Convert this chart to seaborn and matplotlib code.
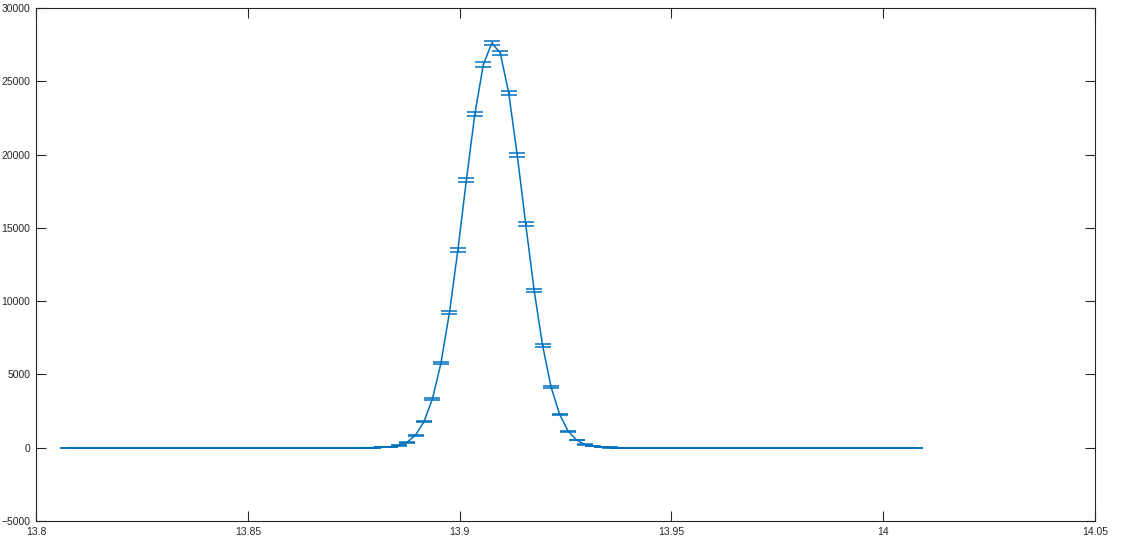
"""
Peak histogram with Poisson error bars (Octave-style errorbar plot).
"""
import numpy as np
import pandas as pd
import seaborn as sns
import matplotlib
matplotlib.use("Agg")
import matplotlib.pyplot as plt
from matplotlib.ticker import FuncFormatter

sns.set_theme(style="ticks")
plt.rcParams["font.family"] = ["Liberation Sans", "DejaVu Sans"]

# bin centres: 101 bins, 0.002 wide, peak bin at 13.9076
x_first = 13.8076
bin_width = 0.002
n_bins = 101

counts = [
    0, 0, 0, 0, 0, 0, 0, 0, 0, 0,
    0, 0, 0, 0, 0, 0, 0, 0, 0, 0,
    0, 0, 0, 0, 0, 0, 0, 0, 0, 0,
    0, 0, 0, 0, 0, 0, 10, 25, 70, 160,
    370, 860, 1780, 3340, 5780, 9210, 13500, 18260, 22770, 26130,
    27610, 26930, 24190, 19990, 15280, 10740, 6960, 4140, 2280, 1140,
    525, 230, 95, 40, 15, 5, 0, 0, 0, 0,
    0, 0, 0, 0, 0, 0, 0, 0, 0, 0,
    0, 0, 0, 0, 0, 0, 0, 0, 0, 0,
    0, 0, 0, 0, 0, 0, 0, 0, 0, 0,
    0,
]

errors = [
    0, 0, 0, 0, 0, 0, 0, 0, 0, 0,
    0, 0, 0, 0, 0, 0, 0, 0, 0, 0,
    0, 0, 0, 0, 0, 0, 0, 0, 0, 0,
    0, 0, 0, 0, 0, 0, 3, 5, 8, 13,
    19, 29, 42, 58, 76, 96, 116, 135, 151, 162,
    166, 164, 156, 141, 124, 104, 83, 64, 48, 34,
    23, 15, 10, 6, 4, 2, 0, 0, 0, 0,
    0, 0, 0, 0, 0, 0, 0, 0, 0, 0,
    0, 0, 0, 0, 0, 0, 0, 0, 0, 0,
    0, 0, 0, 0, 0, 0, 0, 0, 0, 0,
    0,
]

x_ticks = [13.8, 13.85, 13.9, 13.95, 14.0, 14.05]
y_ticks = [-5000, 0, 5000, 10000, 15000, 20000, 25000, 30000]

df = pd.DataFrame({
    "x": x_first + bin_width * np.arange(n_bins),
    "counts": counts,
    "err": errors,
})

blue = "#0072BD"

fig = plt.figure(figsize=(11.21, 5.44), dpi=100)
ax = fig.add_axes([36 / 1121, 23 / 544, (1095 - 36) / 1121, (521 - 8) / 544])

ax.errorbar(df["x"], df["counts"], yerr=df["err"], fmt="none",
            ecolor=blue, elinewidth=0.8, capsize=6.0, capthick=1.1)
sns.lineplot(data=df, x="x", y="counts", ax=ax, color=blue, lw=1.1,
             estimator=None, sort=False)

ax.set_xlim(13.8, 14.05)
ax.set_ylim(-5000, 30000)
ax.set_xticks(x_ticks)
ax.set_yticks(y_ticks)
ax.xaxis.set_major_formatter(FuncFormatter(lambda v, p: f"{v:g}"))
ax.set_xlabel("")
ax.set_ylabel("")

ax.tick_params(direction="in", length=7, width=0.8, top=True, right=True,
               labelsize=7.5, colors="#262626", pad=4)
for s in ax.spines.values():
    s.set_visible(True)
    s.set_color("#262626")
    s.set_linewidth(0.8)

fig.savefig("out.png", dpi=100)
